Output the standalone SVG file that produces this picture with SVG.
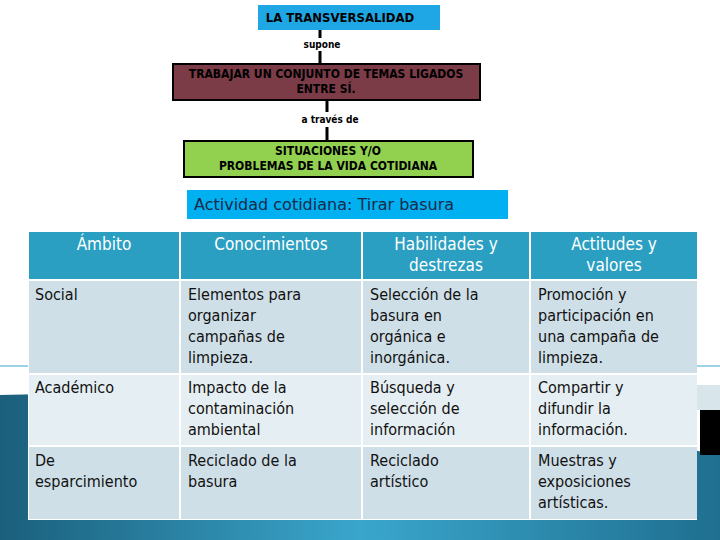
<svg xmlns="http://www.w3.org/2000/svg" width="720" height="540" viewBox="0 0 720 540">
<defs>
<linearGradient id="bg" x1="0" y1="0" x2="1" y2="0">
<stop offset="0" stop-color="#1b5f7c"/><stop offset="0.5" stop-color="#3aa6cc"/><stop offset="1" stop-color="#1f6f90"/>
</linearGradient>
<style>
.t{font-family:"DejaVu Sans Condensed","DejaVu Sans",sans-serif;font-weight:bold;fill:#000}
.c{font-family:"DejaVu Sans Condensed","DejaVu Sans",sans-serif;font-size:16px;fill:#111}
.h{font-family:"DejaVu Sans Condensed","DejaVu Sans",sans-serif;font-size:17px;fill:#fff;text-anchor:middle}
.cn{stroke:#000;stroke-width:3}
</style>
</defs>
<rect width="720" height="540" fill="#fff"/>
<path d="M0,395 Q360,385 720,455 L720,540 L0,540 Z" fill="url(#bg)"/>
<line x1="0" y1="366" x2="28" y2="366" stroke="#3aa6cc"/>
<line x1="697" y1="366" x2="720" y2="366" stroke="#3aa6cc"/>
<rect x="697" y="385" width="23" height="25" fill="#d8e6ec"/>
<rect x="700" y="410" width="20" height="45" fill="#000"/>
<g id="connectors">
<line class="cn" x1="320" y1="30" x2="320" y2="38"/>
<line class="cn" x1="320" y1="51" x2="320" y2="64"/>
<line class="cn" x1="327" y1="100" x2="327" y2="112"/>
<line class="cn" x1="327" y1="127" x2="327" y2="141"/>
<text class="t" x="322" y="48" font-size="10" text-anchor="middle">supone</text>
<text class="t" x="330" y="123" font-size="10" text-anchor="middle">a través de</text>
</g>
<g id="n1"><rect x="258" y="5" width="182" height="25" fill="#1ea7e4"/>
<text class="t" x="340" y="22" font-size="13" text-anchor="middle">LA TRANSVERSALIDAD</text></g>
<g id="n2"><rect x="173" y="64" width="307" height="36" fill="#7b3b47" stroke="#000" stroke-width="2"/>
<text class="t" x="326" y="78" font-size="12" text-anchor="middle">TRABAJAR UN CONJUNTO DE TEMAS LIGADOS</text>
<text class="t" x="326" y="93" font-size="12" text-anchor="middle">ENTRE SÍ.</text></g>
<g id="n3"><rect x="184" y="141" width="289" height="36" fill="#92d050" stroke="#000" stroke-width="2"/>
<text class="t" x="328" y="155" font-size="12" text-anchor="middle">SITUACIONES Y/O</text>
<text class="t" x="328" y="170" font-size="12" text-anchor="middle">PROBLEMAS DE LA VIDA COTIDIANA</text></g>
<g id="n4"><rect x="187" y="190" width="321" height="29" fill="#00b0f0"/>
<text x="194" y="210" font-family="DejaVu Sans, sans-serif" font-size="16" fill="#1a2a4a">Actividad cotidiana: Tirar basura</text></g>
<g id="table">
<rect x="28" y="231" width="669" height="289" fill="#fff"/>
<g fill="#2b9fc2">
<rect x="29" y="232" width="150" height="47"/><rect x="181" y="232" width="180" height="47"/><rect x="363" y="232" width="166" height="47"/><rect x="531" y="232" width="166" height="47"/></g>
<g fill="#cfdfe7">
<rect x="29" y="281" width="150" height="92"/><rect x="181" y="281" width="180" height="92"/><rect x="363" y="281" width="166" height="92"/><rect x="531" y="281" width="166" height="92"/>
<rect x="29" y="447" width="150" height="72"/><rect x="181" y="447" width="180" height="72"/><rect x="363" y="447" width="166" height="72"/><rect x="531" y="447" width="166" height="72"/></g>
<g fill="#e5eef2">
<rect x="29" y="375" width="150" height="70"/><rect x="181" y="375" width="180" height="70"/><rect x="363" y="375" width="166" height="70"/><rect x="531" y="375" width="166" height="70"/></g>
<text class="h" x="104" y="250">Ámbito</text>
<text class="h" x="271" y="250">Conocimientos</text>
<text class="h" x="446" y="250">Habilidades y</text><text class="h" x="446" y="271">destrezas</text>
<text class="h" x="614" y="250">Actitudes y</text><text class="h" x="614" y="271">valores</text>
<g class="c">
<text x="35" y="300">Social</text>
<text x="188" y="300">Elementos para</text><text x="188" y="321">organizar</text><text x="188" y="342">campañas de</text><text x="188" y="363">limpieza.</text>
<text x="370" y="300">Selección de la</text><text x="370" y="321">basura en</text><text x="370" y="342">orgánica e</text><text x="370" y="363">inorgánica.</text>
<text x="538" y="300">Promoción y</text><text x="538" y="321">participación en</text><text x="538" y="342">una campaña de</text><text x="538" y="363">limpieza.</text>
<text x="35" y="393">Académico</text>
<text x="188" y="393">Impacto de la</text><text x="188" y="414">contaminación</text><text x="188" y="435">ambiental</text>
<text x="370" y="393">Búsqueda y</text><text x="370" y="414">selección de</text><text x="370" y="435">información</text>
<text x="538" y="393">Compartir y</text><text x="538" y="414">difundir la</text><text x="538" y="435">información.</text>
<text x="35" y="466">De</text><text x="35" y="487">esparcimiento</text>
<text x="188" y="466">Reciclado de la</text><text x="188" y="487">basura</text>
<text x="370" y="466">Reciclado</text><text x="370" y="487">artístico</text>
<text x="538" y="466">Muestras y</text><text x="538" y="487">exposiciones</text><text x="538" y="508">artísticas.</text>
</g>
</g>
</svg>
